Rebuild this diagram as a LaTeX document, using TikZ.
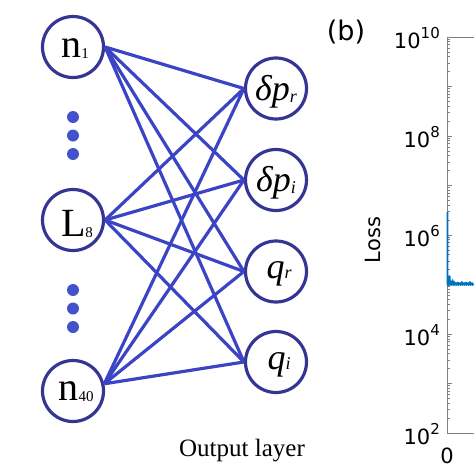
\documentclass[tikz,border=0pt]{standalone}
\usepackage{fontspec}
\setmainfont{Liberation Serif}
\newfontfamily\plotfont{DejaVu Sans}
\definecolor{edgeblue}{HTML}{3A44C4}
\definecolor{circcol}{HTML}{353694}
\definecolor{dotblue}{HTML}{4352CC}
\definecolor{matblue}{HTML}{0072BD}
\definecolor{axgray}{HTML}{808080}
\newcommand{\bigfs}{\fontsize{40}{40}\selectfont}
\newcommand{\subfs}{\fontsize{15}{15}\selectfont}
\newcommand{\osubfs}{\fontsize{18}{18}\selectfont}
\newcommand{\outfs}{\fontsize{36}{36}\selectfont\itshape}
\newcommand{\ticklab}[1]{{\plotfont\fontsize{21}{21}\selectfont 10\raisebox{9.5pt}{\fontsize{15}{15}\selectfont #1}}}
\begin{document}
\begin{tikzpicture}[x=1pt,y=-1pt,
  neuron/.style={circle, draw=circcol, line width=3.2pt, minimum size=61pt, inner sep=0pt},
  conn/.style={draw=edgeblue, line width=3.2pt},
  dotc/.style={circle, fill=dotblue, minimum size=12pt, inner sep=0pt},
  lbl/.style={inner sep=0pt, anchor=base},
  axline/.style={draw=axgray, line width=1pt},
  tickl/.style={draw=axgray, line width=0.6pt}]
\useasboundingbox (0,0) rectangle (474,474);
% neurons
\node[neuron] (n1) at (73,47) {};
\node[neuron] (L8) at (73,220) {};
\node[neuron] (n40) at (73,391) {};
\node[neuron] (dpr) at (276,88.5) {};
\node[neuron] (dpi) at (276,180) {};
\node[neuron] (qr) at (276,271.5) {};
\node[neuron] (qi) at (276,362) {};
% dots
\node[dotc] (d1) at (73,117) {};
\node[dotc] (d2) at (73,135.5) {};
\node[dotc] (d3) at (73,154) {};
\node[dotc] (d4) at (73,290) {};
\node[dotc] (d5) at (73,308.5) {};
\node[dotc] (d6) at (73,327) {};
% connections
\foreach \s/\a in {n1/east, L8/east, n40/13}{
  \foreach \t in {dpr, dpi, qr, qi}{
    \draw[conn] (\s.\a) -- (\t.west);
  }
}
% labels
\node[lbl] (tn1) at (75,57) {\bigfs n\raisebox{-1pt}{\subfs 1}};
\node[lbl] (tL8) at (77,236) {\bigfs L\raisebox{-1pt}{\subfs 8}};
\node[lbl] (tn40) at (76,400) {\bigfs n\raisebox{-1pt}{\subfs 40}};
\node[lbl] (tdpr) at (276,100) {\outfs δp\raisebox{-2pt}{\osubfs r}};
\node[lbl] (tdpi) at (276,191) {\outfs δp\raisebox{-2pt}{\osubfs i}};
\node[lbl] (tqr) at (279,278) {\outfs q\raisebox{0pt}{\osubfs r}};
\node[lbl] (tqi) at (279,369) {\outfs q\raisebox{0pt}{\osubfs i}};
\node[lbl] (outl) at (242,456) {\fontsize{25}{25}\selectfont Output layer};
% plot panel (b)
\node (blab) at (346,32) {\plotfont\fontsize{27}{27}\selectfont (b)};
\node[rotate=90] (loss) at (373,240) {\plotfont\fontsize{21}{21}\selectfont Loss};
\draw[axline] (474,37) -- (447,37) -- (447,433) -- (474,433);
\foreach \d in {0,...,8}{
  \draw[tickl] (447,{433-\d*49.5}) -- (451.5,{433-\d*49.5});
}
\foreach \d in {0,...,7}{
  \foreach \k in {2,...,9}{
    \draw[tickl] (447,{433-(\d+ln(\k)/ln(10))*49.5}) -- (449.5,{433-(\d+ln(\k)/ln(10))*49.5});
  }
}
\foreach \d/\e in {0/2, 2/4, 4/6, 6/8, 8/10}{
  \node[inner sep=0pt, anchor=base east] (tl\e) at (440,{433-\d*49.5+11}) {\ticklab{\e}};
}
\node[inner sep=0pt] (xzero) at (447,456) {\plotfont\fontsize{21}{21}\selectfont 0};
\draw[matblue, line width=1.7pt, line join=round]
  (447.5,212) -- (447.5,285) -- (449,285) -- (449.6,276) -- (450.2,285) -- (451,282) -- (451.6,285)
  -- (452.6,280) -- (453.2,285) -- (454.4,282) -- (455,285) -- (456.2,283) -- (456.8,285)
  -- (458,282.5) -- (458.6,285) -- (460,283) -- (460.6,285) -- (462,282) -- (462.6,285)
  -- (464,283) -- (464.6,285) -- (466,282.5) -- (466.6,285) -- (468,283) -- (468.6,285)
  -- (470,282) -- (470.6,285) -- (472,283) -- (472.6,285) -- (474,284);
\end{tikzpicture}
\end{document}
